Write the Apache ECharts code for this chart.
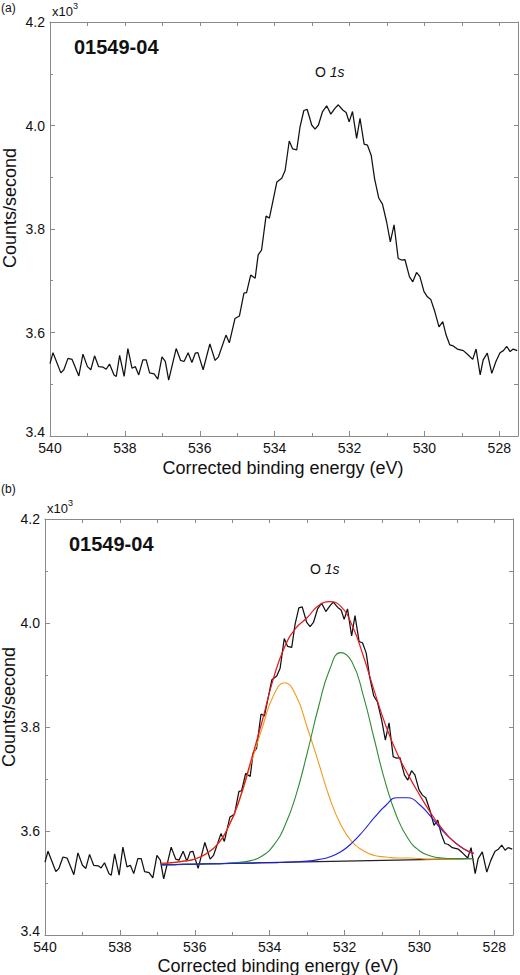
<!DOCTYPE html>
<html><head><meta charset="utf-8">
<script src="https://cdn.jsdelivr.net/npm/echarts@6/dist/echarts.min.js"></script>
<style>html,body{margin:0;padding:0;background:#fff}#c{width:520px;height:975px}</style>
</head><body><div id="c"></div>
<script>
// Measured spectrum (binding energy in eV, counts/second in units of 10^3)
const energy = [540.00,539.92,539.71,539.63,539.52,539.41,539.23,539.12,539.00,538.91,
538.81,538.70,538.58,538.50,538.41,538.29,538.23,538.14,538.02,537.92,
537.81,537.72,537.63,537.52,537.43,537.34,537.22,537.12,537.01,536.92,
536.83,536.63,536.51,536.42,536.31,536.21,536.12,536.05,535.91,535.73,
535.59,535.50,535.30,535.21,535.06,534.94,534.82,534.75,534.64,534.52,
534.44,534.35,534.23,534.14,533.94,533.81,533.72,533.61,533.52,533.41,
533.32,533.22,533.13,533.01,532.92,532.83,532.72,532.61,532.50,532.39,
532.30,532.18,532.09,532.01,531.92,531.81,531.72,531.61,531.52,531.42,
531.33,531.22,531.12,531.01,530.91,530.81,530.70,530.61,530.52,530.40,
530.31,530.21,530.12,530.01,529.92,529.83,529.72,529.61,529.51,529.42,
529.32,529.23,529.12,528.96,528.85,528.71,528.62,528.51,528.43,528.32,
528.20,528.09,527.98,527.89,527.80,527.71,527.63,527.52];
const counts = [3.540,3.561,3.522,3.528,3.550,3.548,3.516,3.558,3.534,3.528,
3.555,3.534,3.533,3.529,3.539,3.518,3.515,3.556,3.515,3.569,
3.531,3.534,3.518,3.547,3.547,3.522,3.520,3.510,3.553,3.544,
3.508,3.569,3.546,3.544,3.561,3.542,3.560,3.561,3.528,3.578,
3.546,3.553,3.595,3.580,3.627,3.632,3.676,3.677,3.711,3.705,
3.750,3.759,3.825,3.821,3.891,3.898,3.913,3.970,3.955,3.953,
3.998,4.029,4.031,4.001,3.993,4.001,4.027,4.038,4.022,4.033,
4.040,4.030,4.025,4.007,4.027,3.975,4.014,3.964,3.962,3.942,
3.897,3.860,3.848,3.814,3.775,3.808,3.743,3.740,3.741,3.708,
3.698,3.716,3.708,3.679,3.669,3.664,3.640,3.611,3.621,3.595,
3.576,3.574,3.568,3.565,3.558,3.548,3.568,3.518,3.547,3.560,
3.521,3.544,3.561,3.565,3.573,3.563,3.568,3.565];

// Peak fit (panel b)
const fitEnergy = [536.9,536.6,536.3,536.0,535.7,535.4,535.1,534.8,534.5,534.2,533.9,533.6,533.3,533.0,532.7,532.4,532.1,531.8,531.5,531.2,530.9,530.6,530.3,530.0,529.7,529.4,529.1,528.8,528.55];
const orangeFit = [3.538,3.539,3.542,3.546,3.556,3.574,3.608,3.660,3.730,3.798,3.860,3.885,3.861,3.800,3.733,3.664,3.612,3.579,3.562,3.553,3.550,3.548,3.548,3.547,3.546,3.546,3.546,3.547,3.547];
const greenFit = [3.535,3.535,3.536,3.536,3.537,3.537,3.538,3.540,3.543,3.552,3.572,3.609,3.668,3.749,3.837,3.910,3.943,3.925,3.861,3.775,3.691,3.627,3.585,3.562,3.552,3.548,3.547,3.547,3.547];
const blueFit = [3.535,3.535,3.536,3.536,3.537,3.537,3.538,3.538,3.538,3.539,3.539,3.540,3.541,3.542,3.545,3.550,3.560,3.577,3.600,3.626,3.649,3.664,3.664,3.651,3.628,3.602,3.581,3.565,3.557];
const envelopeFit = [3.538,3.539,3.542,3.546,3.556,3.574,3.608,3.662,3.735,3.811,3.893,3.954,3.990,4.010,4.033,4.041,4.032,3.996,3.937,3.868,3.803,3.750,3.708,3.670,3.635,3.605,3.581,3.565,3.557];
const bgEnergy = [536.9, 528.55];
const bgCounts = [3.535, 3.547];

// Ticks
const xLabelTicks = [528,530,532,534,536,538,540];
const xMinorTicks = [529,531,533,535,537,539];
const xTopTicks = [528,529,530,531,532,533,534,535,536,537,538,539,540];
const yLabelTicks = [3.4,3.6,3.8,4.0,4.2];
const yMinorTicks = [3.5,3.7,3.9,4.1];
const yRightTicks = [3.5,3.6,3.7,3.8,3.9,4.0,4.1];

const FONT = '"Liberation Sans", Arial, Helvetica, sans-serif';
const AX = '#8a8a8a';
const TXT = '#111';

const zip = (a, b) => a.map((v, i) => [v, b[i]]);

const grids = [
  {left: 50, top: 22, width: 468, height: 414},
  {left: 45, top: 519, width: 468, height: 416}
];

function xAxes(g) {
  const base = {gridIndex: g, type: 'value', min: 527.5, max: 540, inverse: true, splitLine: {show: false}};
  return [
    Object.assign({}, base, {position: 'bottom',
      axisLine: {show: true, lineStyle: {color: AX, width: 1}},
      axisTick: {show: true, inside: true, length: 5, lineStyle: {color: AX}, customValues: xLabelTicks},
      axisLabel: {show: true, customValues: xLabelTicks, margin: 7, fontSize: 14, lineHeight: 10, color: TXT, fontFamily: FONT}}),
    Object.assign({}, base, {position: 'bottom',
      axisLine: {show: false},
      axisTick: {show: true, inside: true, length: 3, lineStyle: {color: AX}, customValues: xMinorTicks},
      axisLabel: {show: false}}),
    Object.assign({}, base, {position: 'top',
      axisLine: {show: true, lineStyle: {color: AX, width: 1}},
      axisTick: {show: true, inside: true, length: 4, lineStyle: {color: AX}, customValues: xTopTicks},
      axisLabel: {show: false}})
  ];
}
function yAxes(g) {
  const base = {gridIndex: g, type: 'value', min: 3.4, max: 4.2, splitLine: {show: false}};
  return [
    Object.assign({}, base, {position: 'left',
      axisLine: {show: true, lineStyle: {color: AX, width: 1}},
      axisTick: {show: true, inside: true, length: 5, lineStyle: {color: AX}, customValues: yLabelTicks},
      axisLabel: {show: true, customValues: yLabelTicks, margin: 5, fontSize: 14, lineHeight: 10, color: TXT, fontFamily: FONT,
        formatter: v => Math.abs(v - yLabelTicks[0]) < 1e-6 ? '{b|' + Number(v).toFixed(1) + '}' : Number(v).toFixed(1),
        rich: {b: {fontSize: 14, fontFamily: FONT, color: TXT, lineHeight: 10, padding: [0, 0, 8, 0]}}}}),
    Object.assign({}, base, {position: 'left',
      axisLine: {show: false},
      axisTick: {show: true, inside: true, length: 3, lineStyle: {color: AX}, customValues: yMinorTicks},
      axisLabel: {show: false}}),
    Object.assign({}, base, {position: 'right',
      axisLine: {show: true, lineStyle: {color: AX, width: 1}},
      axisTick: {show: true, inside: true, length: 4, lineStyle: {color: AX}, customValues: yRightTicks},
      axisLabel: {show: false}})
  ];
}

function line(xi, data, color, width, smooth, z) {
  return {type: 'line', xAxisIndex: xi, yAxisIndex: xi, data: data, showSymbol: false, symbol: 'none',
    smooth: smooth, lineStyle: {color: color, width: width}, itemStyle: {color: color}, z: z, silent: true};
}

function txt(x, y, text, font, align, extra) {
  return Object.assign({type: 'text', x: x, y: y, silent: true,
    style: {text: text, font: font, fill: TXT, align: align || 'left', verticalAlign: 'middle'}}, extra || {});
}

const graphics = [];
[0, 1].forEach(p => {
  const L = grids[p].left, T = grids[p].top;
  graphics.push(txt(1, p === 0 ? 8 : 489, p === 0 ? '(a)' : '(b)', '12px ' + FONT));
  graphics.push(txt(L + 2, T - 11, 'x10', '13px ' + FONT));
  graphics.push(txt(L + 23, T - 16, '3', '9px ' + FONT));
  graphics.push(txt(L + 24, T + 25, '01549-04', 'bold 20px ' + FONT));
  graphics.push({type: 'text', x: L + 265, y: T + 50, silent: true,
    style: {text: '{n|O }{i|1s}', align: 'left', verticalAlign: 'middle', fill: TXT,
      rich: {n: {fontSize: 14, fontFamily: FONT, fill: TXT}, i: {fontSize: 14, fontStyle: 'italic', fontFamily: FONT, fill: TXT}}}});
  graphics.push(txt(L + 233, T + grids[p].height + (p === 0 ? 32 : 31), 'Corrected binding energy (eV)', '18px ' + FONT, 'center'));
  graphics.push(txt(p === 0 ? 10 : 9, T + (p === 0 ? 186 : 188), 'Counts/second', '18px ' + FONT, 'center', {rotation: Math.PI / 2}));
});

const option = {
  animation: false,
  backgroundColor: '#fff',
  grid: grids,
  xAxis: xAxes(0).concat(xAxes(1)),
  yAxis: yAxes(0).concat(yAxes(1)),
  series: [
    line(0, zip(energy, counts), '#111', 1.25, false, 5),
    line(3, zip(energy, counts), '#111', 1.25, false, 3),
    line(3, zip(bgEnergy, bgCounts), '#222', 1.2, false, 4),
    line(3, zip(fitEnergy, orangeFit), '#F39A1E', 1.1, true, 5),
    line(3, zip(fitEnergy, greenFit), '#2E8B36', 1.1, true, 5),
    line(3, zip(fitEnergy, blueFit), '#1E1EE6', 1.1, true, 5),
    line(3, zip(fitEnergy, envelopeFit), '#E8161E', 1.2, true, 6)
  ],
  graphic: graphics
};
const chart = echarts.init(document.getElementById('c'), null, {renderer: 'svg'});
chart.setOption(option);
</script>
</body></html>
